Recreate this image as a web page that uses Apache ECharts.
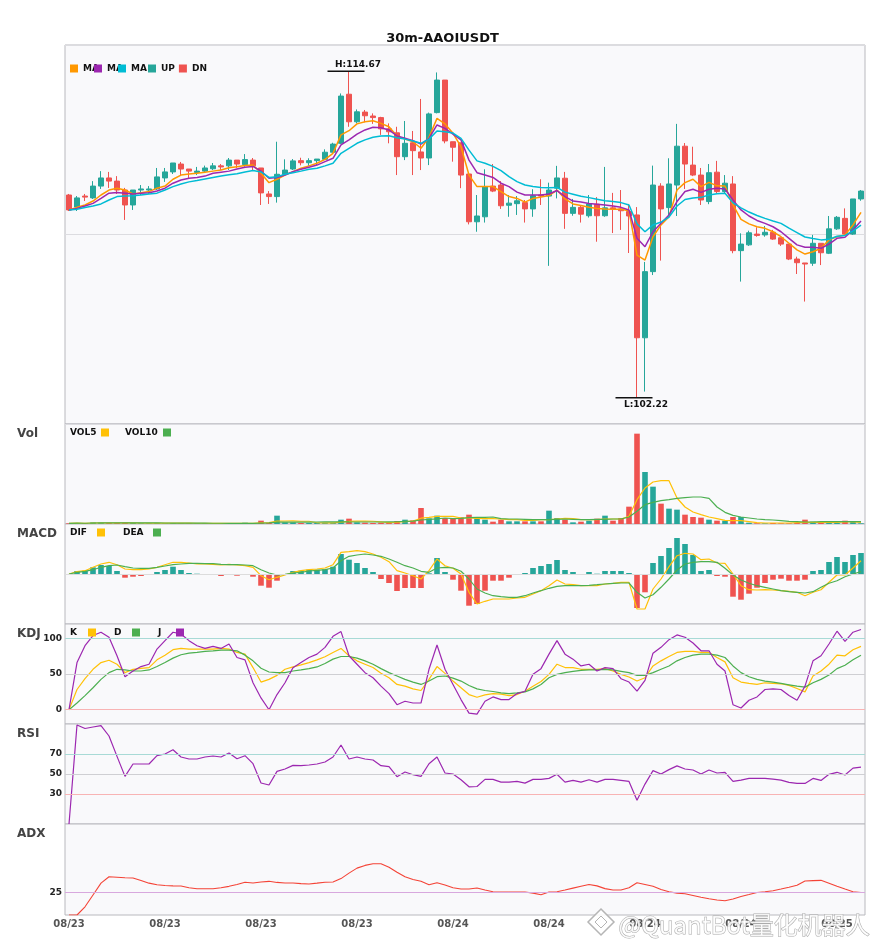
<!DOCTYPE html>
<html>
<head>
<meta charset="utf-8">
<title>30m-AAOIUSDT</title>
<script src="https://cdn.jsdelivr.net/npm/echarts@6.0.0/dist/echarts.min.js"></script>
<style>
    html, body { margin: 0; padding: 0; background: #fff; }
    #main { width: 885px; height: 950px; }
</style>
</head>
<body>
<div id="main"></div>
<script>
// 30分钟K线, 从 08/23 00:00 开始
var times = [];
for (var t = 0; t < 100; t++) {
    var day = 23 + Math.floor(t / 48);
    var mins = (t % 48) * 30;
    var hh = Math.floor(mins / 60), mm = mins % 60;
    times.push('08/' + day + ' ' + (hh < 10 ? '0' : '') + hh + ':' + (mm < 10 ? '0' : '') + mm);
}

var opens = [
    109.95, 109.49, 109.91, 109.84, 110.29, 110.60, 110.48, 110.14, 109.57, 110.14,
    110.14, 110.18, 110.60, 110.83, 111.13, 110.94, 110.81, 110.86, 110.95, 111.06,
    111.06, 111.28, 111.11, 111.28, 110.98, 109.99, 109.89, 110.74, 110.94, 111.26,
    111.18, 111.26, 111.31, 111.58, 111.92, 113.79, 112.74, 113.11, 112.96, 112.90,
    112.47, 112.32, 111.41, 111.94, 111.59, 111.36, 113.09, 114.33, 111.98, 111.94,
    110.75, 108.93, 109.12, 110.29, 110.33, 109.56, 109.62, 109.66, 109.42, 109.95,
    109.91, 110.21, 110.59, 109.25, 109.48, 109.16, 109.60, 109.16, 109.46, 109.42,
    109.32, 109.19, 104.51, 107.03, 110.29, 109.47, 110.33, 111.81, 111.09, 110.71,
    109.70, 110.82, 110.08, 110.37, 107.83, 108.05, 108.46, 108.43, 108.53, 108.32,
    108.08, 107.51, 107.36, 107.35, 108.11, 107.73, 108.66, 109.06, 108.46, 109.80
];
var closes = [
    109.38, 109.84, 109.87, 110.29, 110.60, 110.48, 110.14, 109.57, 110.14, 110.18,
    110.18, 110.64, 110.83, 111.17, 110.94, 110.86, 110.86, 110.98, 111.06, 111.02,
    111.28, 111.13, 111.30, 111.06, 110.03, 109.89, 110.74, 110.90, 111.25, 111.18,
    111.26, 111.32, 111.58, 111.89, 113.72, 112.74, 113.12, 112.97, 112.90, 112.47,
    112.36, 111.41, 111.92, 111.64, 111.36, 113.04, 114.33, 112.01, 111.77, 110.71,
    108.93, 109.15, 110.27, 110.10, 109.54, 109.64, 109.73, 109.42, 109.92, 109.91,
    110.14, 110.60, 109.25, 109.48, 109.22, 109.61, 109.16, 109.46, 109.42, 109.35,
    109.15, 104.51, 107.03, 110.33, 109.42, 110.37, 111.81, 111.13, 110.71, 109.76,
    110.80, 110.08, 110.40, 107.83, 108.08, 108.51, 108.41, 108.53, 108.27, 108.08,
    107.51, 107.37, 107.32, 108.11, 107.75, 108.66, 109.10, 108.46, 109.80, 110.10
];
var highs = [
    109.99, 109.91, 109.99, 110.48, 110.86, 110.83, 110.67, 110.22, 110.14, 110.33,
    110.29, 110.98, 110.98, 111.17, 111.21, 110.94, 111.02, 111.07, 111.17, 111.13,
    111.36, 111.28, 111.51, 111.36, 110.98, 110.10, 111.98, 111.31, 111.32, 111.37,
    111.35, 111.32, 111.69, 111.94, 113.82, 114.67, 113.21, 113.19, 113.06, 112.93,
    112.68, 112.55, 112.77, 112.39, 113.61, 113.09, 114.62, 114.33, 111.98, 111.94,
    110.75, 109.95, 110.93, 111.13, 110.48, 109.95, 109.91, 109.76, 110.17, 110.55,
    110.42, 111.06, 110.83, 109.80, 109.53, 109.95, 109.87, 111.02, 110.03, 110.14,
    109.61, 109.49, 107.40, 111.07, 110.40, 111.35, 112.66, 111.93, 111.79, 110.98,
    111.13, 111.25, 110.71, 110.67, 108.49, 108.59, 108.72, 108.77, 108.62, 108.32,
    108.08, 107.60, 107.36, 108.43, 108.11, 109.15, 109.15, 109.44, 109.80, 110.14
];
var lows = [
    109.34, 109.34, 109.72, 109.80, 110.18, 110.22, 109.99, 109.00, 109.38, 109.95,
    109.99, 110.14, 110.45, 110.75, 110.71, 110.60, 110.71, 110.82, 110.90, 110.90,
    110.90, 110.98, 111.03, 110.90, 109.57, 109.61, 109.66, 110.71, 110.90, 111.08,
    111.06, 111.09, 111.28, 111.56, 111.89, 112.55, 112.68, 112.72, 112.66, 112.24,
    111.92, 110.71, 111.28, 110.71, 110.90, 111.09, 113.06, 111.92, 111.22, 110.21,
    108.83, 108.55, 108.90, 110.06, 109.42, 109.12, 109.19, 108.90, 109.12, 109.57,
    107.25, 109.82, 108.66, 109.16, 108.90, 109.09, 108.17, 109.12, 108.50, 108.62,
    107.74, 102.22, 102.46, 106.90, 107.45, 109.17, 109.15, 110.18, 110.67, 109.57,
    109.60, 110.02, 110.02, 107.73, 106.65, 108.01, 108.36, 108.36, 108.24, 108.01,
    107.47, 106.94, 105.89, 107.25, 107.28, 107.70, 108.62, 108.43, 108.43, 109.73
];

var ma5 = [
    109.38, 109.48, 109.57, 109.72, 109.95, 110.14, 110.21, 110.14, 109.99, 110.04,
    110.08, 110.21, 110.29, 110.55, 110.71, 110.75, 110.78, 110.82, 110.86, 110.90,
    110.99, 111.03, 111.07, 111.09, 110.78, 110.42, 110.55, 110.71, 110.84, 110.97,
    111.06, 111.16, 111.31, 111.54, 112.24, 112.40, 112.66, 112.74, 112.78, 112.68,
    112.55, 112.20, 112.08, 111.98, 111.73, 112.15, 112.87, 112.66, 112.30, 111.79,
    110.71, 110.27, 110.27, 110.27, 110.08, 109.89, 109.82, 109.68, 109.82, 109.87,
    109.93, 110.14, 109.80, 109.61, 109.55, 109.48, 109.44, 109.42, 109.41, 109.41,
    109.35, 107.66, 107.47, 108.36, 108.81, 109.12, 110.14, 110.42, 110.55, 110.27,
    110.43, 110.30, 110.29, 109.57, 109.02, 108.85, 108.74, 108.68, 108.55, 108.36,
    108.11, 107.86, 107.70, 107.79, 107.92, 108.24, 108.36, 108.43, 108.81, 109.29
];
var ma10 = [
    109.38, 109.44, 109.53, 109.63, 109.82, 110.02, 110.05, 110.02, 109.99, 110.02,
    110.04, 110.10, 110.21, 110.40, 110.52, 110.59, 110.62, 110.67, 110.78, 110.82,
    110.86, 110.94, 111.01, 111.04, 110.86, 110.59, 110.62, 110.71, 110.84, 110.93,
    111.01, 111.09, 111.22, 111.35, 111.86, 112.05, 112.27, 112.43, 112.53, 112.51,
    112.43, 112.20, 112.11, 112.02, 111.89, 112.11, 112.62, 112.49, 112.27, 112.05,
    111.28, 110.80, 110.71, 110.62, 110.40, 110.27, 110.06, 109.95, 109.95, 109.95,
    109.99, 110.12, 109.89, 109.72, 109.68, 109.63, 109.60, 109.57, 109.53, 109.48,
    109.38, 108.30, 107.98, 108.55, 108.87, 109.19, 109.70, 110.08, 110.17, 110.05,
    110.17, 110.21, 110.18, 109.76, 109.38, 109.15, 108.98, 108.87, 108.74, 108.55,
    108.30, 108.05, 107.96, 107.96, 107.92, 108.08, 108.30, 108.34, 108.62, 108.96
];
var ma20 = [
    109.38, 109.41, 109.47, 109.53, 109.61, 109.76, 109.89, 109.91, 109.92, 109.95,
    109.99, 110.02, 110.14, 110.27, 110.37, 110.45, 110.50, 110.56, 110.62, 110.67,
    110.72, 110.76, 110.83, 110.88, 110.83, 110.62, 110.65, 110.74, 110.80, 110.86,
    110.93, 110.97, 111.06, 111.16, 111.54, 111.73, 111.92, 112.05, 112.15, 112.20,
    112.21, 112.13, 112.08, 112.01, 111.92, 112.08, 112.39, 112.36, 112.31, 112.11,
    111.66, 111.25, 111.16, 111.04, 110.88, 110.65, 110.46, 110.33, 110.27, 110.24,
    110.23, 110.24, 110.06, 109.98, 109.90, 109.85, 109.79, 109.73, 109.70, 109.66,
    109.57, 108.85, 108.55, 108.81, 108.92, 109.11, 109.53, 109.78, 109.84, 109.86,
    109.95, 110.00, 110.02, 109.65, 109.46, 109.30, 109.17, 109.06, 108.96, 108.87,
    108.69, 108.52, 108.35, 108.29, 108.24, 108.26, 108.38, 108.41, 108.58, 108.80
];

// 成交量 (相对单位)
var vols = [
    2, 3, 2, 5, 4, 3, 3, 4, 3, 2,
    2, 3, 2, 3, 2, 2, 2, 2, 2, 1,
    2, 1, 4, 2, 10, 3, 25, 5, 5, 3,
    3, 3, 4, 4, 13, 16, 5, 4, 3, 4,
    6, 9, 13, 11, 48, 17, 25, 18, 18, 20,
    28, 16, 13, 7, 13, 8, 8, 8, 8, 8,
    40, 18, 13, 5, 7, 10, 16, 25, 10, 18,
    52, 271, 156, 112, 61, 46, 43, 28, 21, 19,
    13, 10, 10, 21, 21, 4, 2, 2, 3, 2,
    2, 3, 13, 7, 4, 4, 3, 10, 6, 2
];
var vol5 = [
    2, 2.5, 2.3, 3, 3.2, 3.4, 3.4, 3.8, 3.4, 3,
    2.8, 2.8, 2.4, 2.4, 2.4, 2.4, 2.2, 2.2, 2, 1.8,
    1.8, 1.6, 2, 2, 3.8, 4, 8.8, 9, 9.6, 8.2,
    8.2, 3.8, 3.6, 3.4, 5.4, 8, 8.4, 8.4, 8.2, 6.4,
    4.4, 5.2, 7, 8.6, 17.4, 19.6, 22.8, 23, 23, 18,
    18, 17, 16, 16, 15, 13, 13, 11, 11, 13,
    13, 15, 17, 16, 13, 13, 13, 15, 15, 15,
    23, 73, 108, 126, 130, 130, 78, 51, 36, 28,
    21, 16, 11, 10, 10, 7, 4, 3, 3, 3,
    3, 4, 5, 5, 5, 5, 5, 6, 6, 5
];
var vol10 = [
    2, 2.5, 2.3, 3, 3.2, 3.3, 3.3, 3.5, 3.4, 3.2,
    3.1, 3.1, 3, 2.9, 2.8, 2.7, 2.5, 2.4, 2.3, 2.2,
    2.1, 2, 2.1, 2.1, 2.9, 3.2, 5.5, 5.5, 5.8, 5.5,
    5.5, 6, 6.3, 6.5, 6.6, 6.1, 6, 6, 6, 6,
    6.5, 6.7, 7.7, 8.5, 12, 14, 15.5, 18, 16, 17,
    19, 20, 20, 21, 16, 15, 15, 14, 13, 13,
    13, 14, 15, 14, 13, 13, 14, 14, 15, 15,
    21, 38, 58, 65, 70, 73, 77, 79, 81, 81,
    77, 51, 35, 26, 21, 18, 15, 13, 12, 10,
    8, 7, 6, 6, 7, 7, 7, 7, 7, 7
];

// MACD (相对单位)
var macdHist = [
    0, 3, 3.3, 6.7, 9, 8, 3, -3.7, -2.7, -2,
    -1, 2, 4, 7.3, 4, 1, 0.3, -0.7, -0.7, -2,
    -0.3, -1.7, -0.7, -2.7, -11.7, -13.7, -6.7, -0.3, 3, 3.3,
    4.3, 4.3, 4.7, 7.3, 20, 14.3, 11, 6, 2, -5,
    -9, -17, -14, -14, -14, 0.7, 16, 2, -5.7, -16.7,
    -31.7, -30, -16.7, -6.7, -6.7, -3.7, -0.3, 1, 6, 8,
    10, 14, 4, 2, -0.7, 2, 0.3, 3, 3, 3,
    1, -34, -18.3, 11, 18, 26, 36, 30, 19, 3,
    4, -2, -2.7, -22.7, -25.7, -19.7, -13.7, -9, -5.7, -4.7,
    -6.7, -6.7, -5.7, 3, 4, 12, 17, 12, 19, 21
];
var dif = [
    0, 2.3, 3.3, 6.7, 10, 11.7, 9.3, 5, 4.3, 4.3,
    5, 6.7, 9.3, 11.7, 11.7, 11, 10, 10, 9.7, 9,
    9.7, 9, 8.3, 6.7, -1.7, -5.7, -3.3, -1, 1.7, 3.3,
    4.3, 5, 6, 9.3, 21.7, 22.3, 23.3, 22.3, 20, 16.7,
    12.3, 3.3, 1, -1.7, -5, 3.3, 15, 8.3, 5.7, 0,
    -18.3, -30, -27.3, -25, -25, -25, -24, -23.3, -20, -16.7,
    -11.7, -6, -10, -10.7, -11.7, -11.7, -11.7, -10, -9.3, -8.3,
    -8.3, -35, -35, -15, -5, 7.3, 18.3, 20.7, 20, 14.3,
    15, 11, 10.7, 0, -11.7, -15.7, -16, -15.7, -16, -16.7,
    -17.3, -18.3, -21.7, -18.3, -15.7, -8.3, -1, -1, 6, 13.3
];
var dea = [
    0, 1.7, 2.7, 4.3, 6.7, 8.3, 9, 7.3, 6, 5.7,
    5.7, 6.7, 8, 9.3, 10, 10.7, 10.7, 10.3, 10.3, 9.7,
    9.3, 9.3, 9, 8.3, 4.3, 1, -1, -0.3, 1, 1.7,
    3, 3.7, 4.3, 6, 13.3, 17.7, 19, 20, 19, 17.7,
    15, 11.7, 8.3, 6, 2.7, 1.7, 6, 6.7, 6, 2.7,
    -5, -15, -19, -21.7, -22.7, -23.3, -23.3, -21.7, -19, -16.7,
    -14.3, -12.3, -11.7, -11.7, -11.7, -11.3, -10.7, -10, -9.3, -9,
    -9, -18.3, -24, -20.7, -13.3, -5, 4, 10, 11.7, 12.3,
    12.3, 11.7, 5.7, -1, -6, -9.3, -11.7, -13.3, -15, -16.7,
    -17.7, -18.3, -19, -17.7, -13.3, -9.3, -6.7, -2.7, 0, 2.3
];

var kLine = [
    0, 28.3, 43.4, 56.6, 66, 69.3, 63.7, 51.9, 56.6, 58,
    59, 69.8, 76.4, 84, 85.8, 84.9, 84.9, 84.9, 84.9, 85.8,
    84.9, 80.2, 77.8, 59, 38.7, 42.5, 48.1, 56.6, 59.9, 62.7,
    66, 69.8, 74.1, 80.2, 85.8, 75.5, 68.4, 63.7, 59, 51,
    44.8, 35.4, 33, 29.2, 26.9, 42.5, 60.4, 50.9, 40.1, 30.7,
    21.2, 17.5, 20.8, 22.6, 21.7, 19.8, 21.2, 25.9, 33, 39.6,
    49.5, 63.7, 59, 59, 56.6, 56.6, 56.6, 57.5, 54.2, 49.5,
    45.8, 40.1, 44.8, 61.3, 68.4, 74.5, 80.2, 81.6, 81.6, 80.2,
    80.2, 73.1, 67, 44.8, 38.7, 36.8, 35.4, 37.7, 36.8, 36.3,
    34, 29.7, 25, 47.2, 54.2, 63.7, 76.4, 75.5, 84, 88.7
];
var dLine = [
    0, 9.4, 19.8, 30.7, 42.5, 51.9, 56.6, 55.7, 54.2, 54.2,
    55.7, 60.4, 66, 72.2, 76.9, 79.2, 80.2, 81.6, 82.5, 83.5,
    83.5, 82.5, 76.4, 68.4, 58, 52.8, 51.9, 51.9, 54.2, 55.7,
    57.5, 59.9, 64.6, 70.8, 74.5, 74.5, 72.2, 68.4, 63.7, 57.5,
    51.9, 47.2, 42.5, 38.7, 35.4, 40.1, 46.2, 47.2, 44.3, 40.1,
    34, 29.2, 26.9, 25.5, 23.6, 22.6, 23.6, 25, 29.2, 35.4,
    44.8, 49.5, 51.9, 53.8, 55.2, 55.7, 55.7, 56.6, 55.7, 53.8,
    51.9, 48.1, 48.1, 51.9, 56.6, 61.3, 68.4, 73.1, 76.4, 77.8,
    77.8, 76.4, 73.1, 61.3, 51.9, 46.2, 42.5, 40.1, 38.7, 36.8,
    34.9, 33, 31.6, 37.7, 42.5, 48.6, 57.5, 62.3, 69.8, 76.4
];
var jLine = [
    0, 66, 89.6, 103.8, 108.5, 101.4, 75.5, 46.2, 54.2, 60.4,
    63.7, 84.9, 96.7, 108.5, 106.1, 96.7, 89.6, 85.8, 88.7, 85.8,
    92, 73.1, 69.8, 37.7, 16.5, 0, 21.2, 37.7, 58.9, 66,
    73.1, 77.8, 87.3, 102.8, 109.4, 75.5, 63.7, 51.9, 44.8, 33,
    22.6, 7, 11.8, 9.4, 9.4, 56.6, 90.6, 56.6, 35.4, 14.2,
    -4.7, -6.1, 11.8, 17.9, 14.2, 14.2, 22.6, 25.9, 49.5, 57.5,
    77.8, 96.7, 77.8, 70.8, 61.3, 63.7, 54.2, 58.9, 57.5, 43.4,
    38.7, 25.9, 41, 79.2, 87.3, 98.1, 104.7, 101.4, 93.4, 82.5,
    82.5, 63.7, 54.2, 7, 2.4, 13.2, 17.9, 28.3, 29.2, 28.3,
    19.8, 13.2, 33, 68.4, 75.5, 92, 109.9, 95.8, 108.5, 112.3
];

var rsi = [
    0, 99, 95.5, 97, 98.3, 88, 67.6, 47.6, 60, 60,
    60, 68.3, 70, 74.3, 67, 65, 65, 67, 68, 67,
    71, 65.3, 68.3, 60.3, 41, 39, 52.6, 55, 58.6, 58.3,
    59, 60, 62, 67, 79, 65, 67, 65, 64, 58.3,
    57.3, 47.3, 52, 49.3, 47.6, 60.3, 67, 51, 50, 44.3,
    37.2, 37.5, 44.6, 44.6, 41.9, 41.9, 42.6, 40.9, 44.6, 44.6,
    45.6, 49.7, 41.9, 43.6, 41.9, 44.3, 41.9, 44.6, 44.6, 43.6,
    42.6, 23.7, 39.9, 53.4, 50, 54.4, 58.1, 55, 54, 50,
    54, 51, 51.7, 42.6, 43.9, 45.6, 45.6, 45.6, 44.9, 43.9,
    41.6, 40.6, 40.6, 45.6, 43.6, 49.7, 51.7, 49, 55.9, 56.9
];
var adx = [
    0, 0, 9, 22, 35, 42, 41.5, 41, 40.7, 38,
    35, 33.3, 32.5, 32, 31.9, 30, 28.9, 28.9, 28.9, 30,
    31.5, 33.5, 36, 35.2, 36.3, 37, 35.8, 35.2, 35.2, 34.5,
    34.1, 35, 36, 36.3, 40, 46, 51.5, 54.5, 56.3, 56.3,
    52.5, 47, 42, 39, 37, 33.3, 35.5, 33, 30, 28.5,
    28.5, 29.6, 27.5, 25.6, 25.3, 25.2, 25.2, 25.2, 24, 22.2,
    25.2, 25.6, 27.4, 29.5, 31.5, 33.5, 32, 29, 27.4, 27.4,
    30, 35.5, 33.5, 31.5, 28, 25.5, 24, 23.3, 21.5, 19.5,
    17.8, 16.5, 15.6, 17.5, 20.4, 22.5, 24.8, 25.6, 26.7, 28.5,
    30.5, 32.6, 37.4, 37.8, 38.1, 35, 31.5, 28.5, 25.6, 24.8
];

var upColor = '#26a69a', downColor = '#ef5350';
var font = 'DejaVu Sans';

window.onload = function () {
    var myChart = echarts.init(document.getElementById('main'));

    var kData = [];
    for (var i = 0; i < opens.length; i++) {
        kData.push([opens[i], closes[i], lows[i], highs[i]]);
    }
    var volData = vols.map(function (v, i) {
        return {value: v, itemStyle: {color: closes[i] >= opens[i] ? upColor : downColor}};
    });
    var macdData = macdHist.map(function (v) {
        return {value: v, itemStyle: {color: v >= 0 ? upColor : downColor}};
    });

    // 主图上下各留 8% 空白, 中间一条分隔线
    var hi = Math.max.apply(null, highs), lo = Math.min.apply(null, lows);
    var pad = (hi - lo) * 0.08;

    var panels = [
        {top: 45, height: 379},
        {top: 424, height: 100},
        {top: 524, height: 100},
        {top: 624, height: 100},
        {top: 724, height: 100},
        {top: 824, height: 91}
    ];

    var legText = {fontFamily: font, fontWeight: 'bold', fontSize: 9, color: '#111'};
    var tickText = {fontFamily: font, fontWeight: 'bold', fontSize: 9, color: '#222', margin: 3};

    // 主图图例: 每项单独定位, 后一项的色块盖住前一项文字
    function mainLegend(left, names, z, textStyle) {
        return {
            left: left, top: 64, padding: 0, itemGap: 4, itemWidth: 8, itemHeight: 8,
            icon: 'rect', selectedMode: false, textStyle: textStyle, z: z, data: names
        };
    }
    function subLegend(top, gap, names, widths) {
        var rich = {};
        names.forEach(function (n, k) {
            rich['w' + k] = {width: widths[k], align: 'left', fontFamily: font, fontWeight: 'bold', fontSize: 9, color: '#111'};
        });
        return {
            left: 70, top: top, padding: 0, align: 'right', itemGap: gap,
            itemWidth: 8, itemHeight: 8, icon: 'rect', selectedMode: false,
            textStyle: {fontFamily: font, fontWeight: 'bold', fontSize: 9, color: '#111', rich: rich},
            formatter: function (name) {
                var k = names.indexOf(name);
                return '{w' + k + '|' + name + '}';
            },
            data: names
        };
    }
    function hLines(list) {
        return {
            silent: true, symbol: ['none', 'none'], label: {show: false},
            data: list.map(function (it) {
                return {yAxis: it[0], lineStyle: {color: it[1], width: 1, type: 'solid'}};
            })
        };
    }
    function pickLabels(vals) {
        return function (v) {
            return vals.indexOf(Math.round(v * 1000) / 1000) >= 0 ? String(v) : '';
        };
    }
    function line(name, data, color, xi, width, extra) {
        var s = {
            name: name, type: 'line', data: data, xAxisIndex: xi, yAxisIndex: xi,
            symbol: 'none', smooth: false, color: color,
            lineStyle: {width: width, color: color}
        };
        for (var key in extra) s[key] = extra[key];
        return s;
    }

    var maText = Object.assign({width: 19, overflow: 'truncate', ellipsis: ''}, legText);

    var option = {
        animation: false,
        backgroundColor: '#fff',
        title: {
            text: '30m-AAOIUSDT', left: 'center', top: 27,
            textStyle: {fontFamily: font, fontWeight: 'bold', fontSize: 13, color: '#111'}
        },
        legend: [
            mainLegend(70, ['MA5'], 10, maText),
            mainLegend(94, ['MA10'], 11, maText),
            mainLegend(118, ['MA20'], 12, maText),
            mainLegend(148, ['UP', 'DN'], 13, legText),
            subLegend(428, 16, ['VOL5', 'VOL10'], [26, 33]),
            subLegend(528, 18, ['DIF', 'DEA'], [22, 25]),
            subLegend(628, 18, ['K', 'D', 'J'], [13, 13, 13])
        ],
        grid: panels.map(function (p) {
            return {
                left: 65, right: 20, top: p.top, height: p.height, show: true,
                backgroundColor: '#f9f9fb', borderColor: '#b9b9be', borderWidth: 1
            };
        }),
        xAxis: panels.map(function (p, k) {
            return {
                type: 'category', gridIndex: k, data: times, boundaryGap: true,
                axisLine: {show: false}, axisTick: {show: false}, splitLine: {show: false},
                axisLabel: k === 5 ? {
                    show: true, interval: 11, margin: 4,
                    fontFamily: font, fontWeight: 'bold', fontSize: 10, color: '#555',
                    formatter: function (v) { return v.slice(0, 5); }
                } : {show: false}
            };
        }),
        yAxis: [
            {
                gridIndex: 0, min: lo - pad, max: hi + pad, interval: (hi - lo + 2 * pad) / 2,
                axisLine: {show: false}, axisTick: {show: false}, axisLabel: {show: false},
                splitLine: {show: true, lineStyle: {color: '#dcdce0', width: 1}}
            },
            {
                gridIndex: 1, min: 0, max: 300,
                axisLine: {show: false}, axisTick: {show: false}, axisLabel: {show: false},
                splitLine: {show: false}
            },
            {
                gridIndex: 2, min: -50, max: 50,
                axisLine: {show: false}, axisTick: {show: false}, axisLabel: {show: false},
                splitLine: {show: false}
            },
            {
                gridIndex: 3, min: -20, max: 120, interval: 10,
                axisLine: {show: false}, axisTick: {show: false}, splitLine: {show: false},
                axisLabel: Object.assign({formatter: pickLabels([0, 50, 100])}, tickText)
            },
            {
                gridIndex: 4, min: 0, max: 100, interval: 10,
                axisLine: {show: false}, axisTick: {show: false}, splitLine: {show: false},
                axisLabel: Object.assign({formatter: pickLabels([30, 50, 70])}, tickText)
            },
            {
                gridIndex: 5, min: 0, max: 100, interval: 5,
                axisLine: {show: false}, axisTick: {show: false}, splitLine: {show: false},
                axisLabel: Object.assign({formatter: pickLabels([25])}, tickText)
            }
        ],
        series: [
            {
                name: 'Kline', type: 'candlestick', data: kData, xAxisIndex: 0, yAxisIndex: 0,
                barWidth: '70%',
                itemStyle: {
                    color: upColor, color0: downColor,
                    borderColor: upColor, borderColor0: downColor, borderWidth: 1
                },
                markPoint: {
                    silent: true, symbol: 'rect', symbolSize: [37, 1.5],
                    itemStyle: {color: '#111'},
                    label: {
                        show: true, color: '#111', fontFamily: font, fontWeight: 'bold', fontSize: 9,
                        formatter: function (p) { return p.name + ':' + Number(p.value).toFixed(2); }
                    },
                    data: [
                        {name: 'H', type: 'max', valueDim: 'highest', symbolOffset: [-3, 0],
                         label: {position: 'top', distance: 1, offset: [12, 0]}},
                        {name: 'L', type: 'min', valueDim: 'lowest', symbolOffset: [-3, 0],
                         label: {position: 'bottom', distance: 2, offset: [12, 0]}}
                    ]
                }
            },
            line('MA5', ma5, '#FF9800', 0, 1.5),
            line('MA10', ma10, '#9C27B0', 0, 1.5),
            line('MA20', ma20, '#00BCD4', 0, 1.5),
            {name: 'UP', type: 'bar', data: [], xAxisIndex: 0, yAxisIndex: 0, color: upColor},
            {name: 'DN', type: 'bar', data: [], xAxisIndex: 0, yAxisIndex: 0, color: downColor},

            {name: 'Vol', type: 'bar', data: volData, xAxisIndex: 1, yAxisIndex: 1, barWidth: '70%'},
            line('VOL5', vol5, '#FFC107', 1, 1.2),
            line('VOL10', vol10, '#4CAF50', 1, 1.2),

            {
                name: 'MACD', type: 'bar', data: macdData, xAxisIndex: 2, yAxisIndex: 2, barWidth: '70%',
                markLine: hLines([[0, '#dcdcdc']])
            },
            line('DIF', dif, '#FFC107', 2, 1.2),
            line('DEA', dea, '#4CAF50', 2, 1.2),

            line('K', kLine, '#FFC107', 3, 1.2, {
                markLine: hLines([[100, '#a8dad6'], [50, '#cfcfd3'], [0, '#f8b4b4']])
            }),
            line('D', dLine, '#4CAF50', 3, 1.2),
            line('J', jLine, '#9C27B0', 3, 1.2),

            line('RSI', rsi, '#9C27B0', 4, 1.2, {
                markLine: hLines([[70, '#a8dad6'], [50, '#cfcfd3'], [30, '#f8b4b4']])
            }),
            line('ADX', adx, '#F44336', 5, 1.1, {
                markLine: hLines([[25, '#d8a8de']])
            })
        ],
        graphic: [
            {type: 'text', left: 17, top: 428, style: {text: 'Vol', font: 'bold 12px "DejaVu Sans"', fill: '#444'}},
            {type: 'text', left: 17, top: 528, style: {text: 'MACD', font: 'bold 12px "DejaVu Sans"', fill: '#444'}},
            {type: 'text', left: 17, top: 628, style: {text: 'KDJ', font: 'bold 12px "DejaVu Sans"', fill: '#444'}},
            {type: 'text', left: 17, top: 728, style: {text: 'RSI', font: 'bold 12px "DejaVu Sans"', fill: '#444'}},
            {type: 'text', left: 17, top: 828, style: {text: 'ADX', font: 'bold 12px "DejaVu Sans"', fill: '#444'}},
            // 水印
            {
                type: 'polygon', z: 100, silent: true,
                shape: {points: [[601, 909], [614, 922], [601, 935], [588, 922]]},
                style: {fill: 'rgba(255,255,255,0.85)', stroke: '#b5b5b5', lineWidth: 1.5}
            },
            {
                type: 'polygon', z: 101, silent: true,
                shape: {points: [[601, 916], [607, 922], [601, 928], [595, 922]]},
                style: {fill: 'none', stroke: '#b5b5b5', lineWidth: 1}
            },
            {
                type: 'text', left: 618, top: 912, z: 100, silent: true,
                style: {
                    text: '@QuantBot量化机器人', font: '24px "Noto Sans CJK SC"',
                    fill: 'rgba(255,255,255,0.85)', stroke: '#ababab', lineWidth: 1
                }
            }
        ]
    };

    myChart.setOption(option);
};
</script>
</body>
</html>
